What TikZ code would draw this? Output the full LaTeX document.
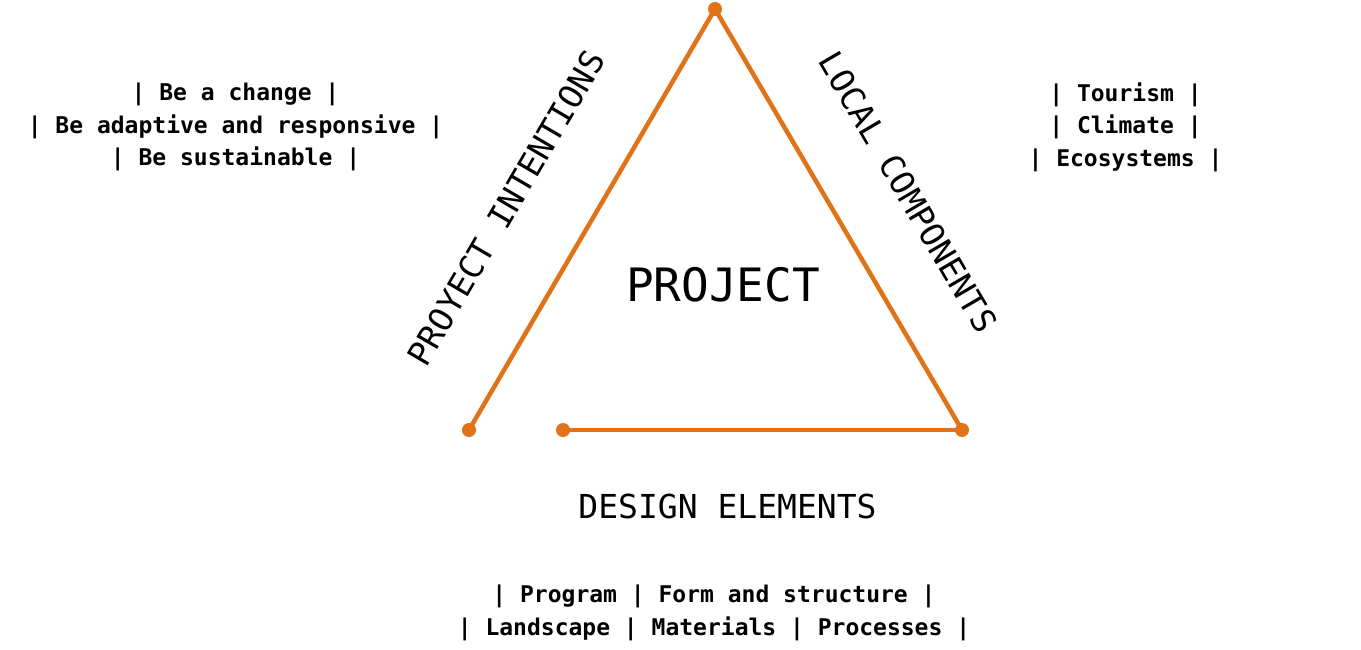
\documentclass[tikz,border=0pt]{standalone}
\usepackage{fontspec}
\setmonofont{DejaVu Sans Mono}
\definecolor{tri}{RGB}{224,114,24}
\begin{document}
\begin{tikzpicture}[x=1pt,y=-1pt,
  dot/.style={circle,fill=tri,inner sep=0pt,minimum size=14pt},
  edge/.style={draw=tri,line width=4.5pt},
  listtxt/.style={font=\ttfamily\bfseries\fontsize{23}{32.5}\selectfont,align=center,inner sep=0pt},
  side/.style={font=\ttfamily\fontsize{33}{36}\selectfont,inner sep=0pt},
  big/.style={font=\ttfamily\fontsize{46}{50}\selectfont,inner sep=0pt}]
\useasboundingbox (0,0) rectangle (1361,650);
\fill[white] (0,0) rectangle (1361,650);
% vertices
\node[dot] (top) at (715,9) {};
\node[dot] (bl) at (469,430) {};
\node[dot] (bs) at (563,430) {};
\node[dot] (br) at (962,430) {};
% edges
\draw[edge] (top.center) -- (bl.center);
\draw[edge] (top.center) -- (br.center);
\draw[edge] (bs.center) -- (br.center);
% labels
\node[big,anchor=base] (proj) at (723,301) {PROJECT};
\node[side,anchor=base] (design) at (727.5,518) {DESIGN ELEMENTS};
\node[side,rotate=59.7] (pint) at (506,208) {PROYECT INTENTIONS};
\node[side,rotate=-59.6] (lcomp) at (908,192) {LOCAL COMPONENTS};
% lists
\node[listtxt] (llist) at (235.5,127) {| Be a change |\\| Be adaptive and responsive |\\| Be sustainable |};
\node[listtxt] (rlist) at (1125.5,127) {| Tourism |\\| Climate |\\| Ecosystems |};
\node[listtxt] (blist) at (714,613) {| Program | Form and structure |\\| Landscape | Materials | Processes |};
\end{tikzpicture}
\end{document}
